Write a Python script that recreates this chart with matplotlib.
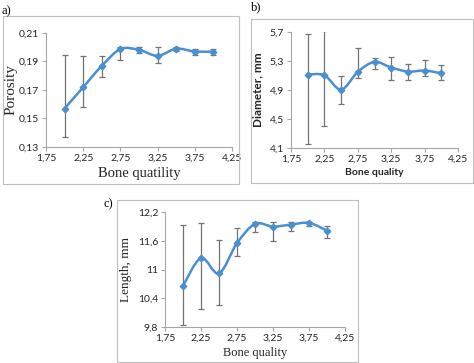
import numpy as np
import matplotlib
matplotlib.use("Agg")
import matplotlib.pyplot as plt
from matplotlib.path import Path
from matplotlib.patches import PathPatch, Rectangle

# bone quality levels
quality = [2.0, 2.25, 2.5, 2.75, 3.0, 3.25, 3.5, 3.75, 4.0]

# a) porosity, with lower / upper ends of the error bars
porosity = [0.157, 0.172, 0.187, 0.1987, 0.1982, 0.194, 0.199, 0.197, 0.197]
porosity_lo = [0.137, 0.158, 0.179, 0.1912, 0.196, 0.1888, 0.1975, 0.1948, 0.1948]
porosity_hi = [0.1945, 0.194, 0.194, 0.200, 0.200, 0.200, 0.2, 0.199, 0.199]

# b) diameter, mm
diameter = [5.113, 5.103, 4.905, 5.150, 5.288, 5.210, 5.154, 5.168, 5.131]
diameter_lo = [4.151, 4.405, 4.701, 5.062, 5.196, 5.039, 5.039, 5.090, 5.039]
diameter_hi = [5.677, 5.714, 5.090, 5.483, 5.335, 5.362, 5.261, 5.307, 5.251]

# c) length, mm
length = [10.658, 11.239, 10.920, 11.550, 11.951, 11.896, 11.937, 11.972, 11.812]
length_lo = [9.841, 10.173, 10.263, 11.287, 11.785, 11.598, 11.806, 11.916, 11.647]
length_hi = [11.937, 11.972, 11.619, 11.875, 11.993, 11.993, 11.993, 12.0, 11.902]

W, H = 474, 363
blue = '#4a8fd2'
grey = '#a6a6a6'
serif = 'Liberation Serif'
sans = 'Lato'


def px_axes(fig, x0, y0, x1, y1):
    # pixel box (top-left origin) -> figure axes
    return fig.add_axes([x0 / W, 1 - y1 / H, (x1 - x0) / W, (y1 - y0) / H])


def px_box(fig, x0, y0, x1, y1):
    fig.patches.append(Rectangle((x0 / W, 1 - y1 / H), (x1 - x0) / W, (y1 - y0) / H,
                                 transform=fig.transFigure, fill=False,
                                 edgecolor='#bfbfbf', linewidth=0.8))


def smooth_line(ax, x, y):
    # Excel-like smoothed line: cubic Bezier through the points
    x = np.asarray(x); y = np.asarray(y)
    verts = [(x[0], y[0])]
    codes = [Path.MOVETO]
    n = len(x)
    for i in range(n - 1):
        x0, y0 = (x[i - 1], y[i - 1]) if i > 0 else (x[i], y[i])
        x3, y3 = (x[i + 2], y[i + 2]) if i + 2 < n else (x[i + 1], y[i + 1])
        c1 = (x[i] + (x[i + 1] - x0) / 6, y[i] + (y[i + 1] - y0) / 6)
        c2 = (x[i + 1] - (x3 - x[i]) / 6, y[i + 1] - (y3 - y[i]) / 6)
        verts += [c1, c2, (x[i + 1], y[i + 1])]
        codes += [Path.CURVE4] * 3
    ax.add_patch(PathPatch(Path(verts, codes), facecolor='none', edgecolor=blue,
                           linewidth=1.8, zorder=3))


def panel(ax, y, lo, hi, ylim, yticks, ylabel, ylab_font, tick_font, xlab_font, xlab_size,
          ylab_size, ylab_x, bold=False, ytick_labels=None):
    y = np.asarray(y)
    yerr = [y - np.asarray(lo), np.asarray(hi) - y]
    ax.errorbar(quality, y, yerr=yerr, fmt='none', ecolor='#737373', elinewidth=0.9,
                capsize=2.0, capthick=0.9, zorder=2)
    smooth_line(ax, quality, y)
    ax.plot(quality, y, 'D', color=blue, markersize=3.3, zorder=4)
    ax.set_xlim(1.75, 4.25)
    ax.set_ylim(*ylim)
    xt = [1.75, 2.25, 2.75, 3.25, 3.75, 4.25]
    ax.set_xticks(xt)
    ax.set_xticklabels([('%.2f' % v).replace('.', ',') for v in xt], fontfamily=tick_font, fontsize=7.5)
    ax.set_yticks(yticks)
    if ytick_labels is None:
        ytick_labels = [('%g' % v).replace('.', ',') for v in yticks]
    ax.set_yticklabels(ytick_labels, fontfamily=tick_font, fontsize=7.5)
    for s in ['top', 'right']:
        ax.spines[s].set_visible(False)
    for s in ['left', 'bottom']:
        ax.spines[s].set_color(grey)
        ax.spines[s].set_linewidth(0.8)
    ax.tick_params(direction='out', length=3, width=0.8, color=grey, pad=2, labelcolor='#262626')
    w = 'bold' if bold else 'normal'
    ax.set_xlabel('Bone quality', fontfamily=xlab_font, fontsize=xlab_size, fontweight=w,
                  color='#262626', labelpad=3)
    ax.set_ylabel(ylabel, fontfamily=ylab_font, fontsize=ylab_size, fontweight=w,
                  color='#262626', va='center')
    ax.yaxis.set_label_coords(ylab_x, 0.5)
    ax.patch.set_alpha(0)


fig = plt.figure(figsize=(W / 100, H / 100), dpi=100)

# a)
px_box(fig, 3, 16, 239, 184)
ax_a = px_axes(fig, 46, 33, 232, 147)
panel(ax_a, porosity, porosity_lo, porosity_hi, (0.13, 0.21),
      [0.13, 0.15, 0.17, 0.19, 0.21], 'Porosity', serif, sans, serif, 10.5, 11, -0.19,
      ytick_labels=['0,13', '0,15', '0,17', '0,19', '0,21'])
ax_a.set_xlabel('Bone quatility', fontfamily=serif, fontsize=10.5, color='#262626', labelpad=3)

# b)
px_box(fig, 251, 19, 473, 183)
ax_b = px_axes(fig, 291, 32, 458, 148)
panel(ax_b, diameter, diameter_lo, diameter_hi, (4.1, 5.7),
      [4.1, 4.5, 4.9, 5.3, 5.7], 'Diameter, mm', sans, sans, sans, 7.5, 8.5, -0.2, bold=True)

# c)
px_box(fig, 117, 200, 358, 362)
ax_c = px_axes(fig, 165, 212, 345, 327)
panel(ax_c, length, length_lo, length_hi, (9.8, 12.2),
      [9.8, 10.4, 11.0, 11.6, 12.2], 'Length, mm', serif, sans, serif, 9, 9.5, -0.215,
      ytick_labels=['9,8', '10,4', '11', '11,6', '12,2'])

fig.text(2 / W, 1 - 11 / H, 'a)', fontfamily=serif, fontsize=9, va='center', ha='left')
fig.text(251 / W, 1 - 7 / H, 'b)', fontfamily=serif, fontsize=9, va='center', ha='left')
fig.text(104 / W, 1 - 204 / H, 'c)', fontfamily=serif, fontsize=9, va='center', ha='left')

fig.savefig('out.png', dpi=100)
